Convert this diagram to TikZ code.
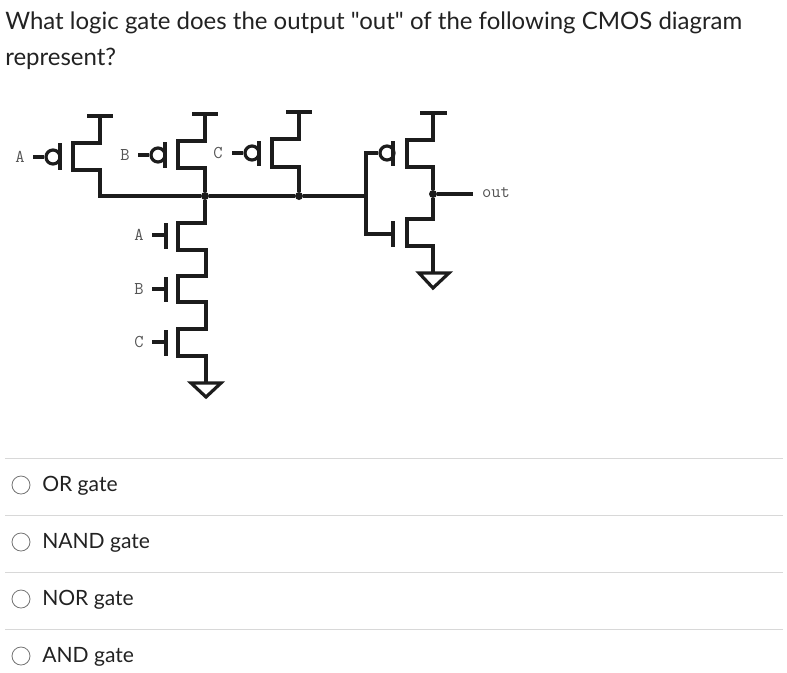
\documentclass[tikz,border=0pt]{standalone}
\usepackage{fontspec}
\newfontfamily\quizfont{Lato}
\definecolor{textcol}{HTML}{222222}
\definecolor{labelcol}{HTML}{555555}
\definecolor{rulecol}{HTML}{D8D8D8}
\definecolor{wirecol}{HTML}{1C1C1C}
\tikzset{
	wire/.style={draw=wirecol, line width=2.4pt, line join=miter},
	bubble/.style={circle, draw=wirecol, line width=2.4pt, fill=white, minimum size=10.5pt, inner sep=0pt},
	dot/.style={circle, fill=wirecol, minimum size=6pt, inner sep=0pt},
	pin/.style={font=\ttfamily\fontsize{13.5}{15}\selectfont, text=labelcol},
	title/.style={anchor=base west, font=\quizfont\fontsize{18}{22}\selectfont, text=textcol, inner sep=0pt},
	answer/.style={anchor=base west, font=\quizfont\fontsize{15.8}{19}\selectfont, text=textcol, inner sep=0pt},
	radio/.style={circle, draw=black!55, line width=0.6pt, fill=white, minimum size=13.5pt, inner sep=0pt},
	sep/.style={draw=rulecol, line width=0.7pt}
}
\begin{document}
\begin{tikzpicture}[x=0.75pt, y=-0.75pt]
	\useasboundingbox (0,0) rectangle (787,672);

	\node[title] (T1) at (5,29) {What logic gate does the output "out" of the following CMOS diagram};
	\node[title] (T2) at (5,65) {represent?};

	% pull-up A, B, C
	\node[pin] (LA) at (20,157) {A};
	\node[pin] (LB) at (125,155) {B};
	\node[pin] (LC) at (218,153) {C};
	\node[bubble] (BA) at (53,157) {};
	\node[bubble] (BB) at (158,155) {};
	\node[bubble] (BC) at (252,153) {};
	\coordinate (IA) at (33,157);
	\coordinate (IB) at (138,155);
	\coordinate (IC) at (232,153);
	\draw[wire] (IA) -- (BA);
	\draw[wire] (IB) -- (BB);
	\draw[wire] (IC) -- (BC);
	\draw[wire] (60,143) -- (60,170);
	\draw[wire] (165,142) -- (165,168);
	\draw[wire] (259,141) -- (259,166);

	\node[dot] (J1) at (205,196) {};
	\node[dot] (J2) at (299,196) {};
	\coordinate (J0) at (366,196);

	\draw[wire] (87,116) -- (113,116);
	\draw[wire] (100,116) |- (73,143) -- (73,170) -| (100,196) -- (J1);
	\draw[wire] (192,114) -- (218,114);
	\draw[wire] (205,114) |- (178,141) -- (178,168) -| (J1);
	\draw[wire] (286,112) -- (312,112);
	\draw[wire] (299,112) |- (272,139) -- (272,167) -| (J2);
	\draw[wire] (J1) -- (J2) -- (J0);

	% pull-down A, B, C
	\node[pin] (LD) at (139,235) {A};
	\node[pin] (LE) at (139,289) {B};
	\node[pin] (LF) at (139,342) {C};
	\coordinate (ID) at (152,235);
	\coordinate (IE) at (152,289);
	\coordinate (IF) at (152,342);
	\draw[wire] (ID) -- (166,235);
	\draw[wire] (IE) -- (166,289);
	\draw[wire] (IF) -- (166,342);
	\draw[wire] (166,223) -- (166,249);
	\draw[wire] (166,277) -- (166,302);
	\draw[wire] (166,330) -- (166,356);
	\draw[wire] (J1) |- (178,223) |- (206,250) |- (178,276) |- (206,302) |- (178,329) |- (206,356) -- (206,383);
	\draw[wire] (191,383) -- (221,383) -- (206,397) -- cycle;

	% inverter
	\node[bubble] (BG) at (387,153) {};
	\node[dot] (J3) at (433,194) {};
	\node[pin] (LO) at (496,193) {out};
	\coordinate (OUT) at (473,194);
	\draw[wire] (J0) |- (BG);
	\draw[wire] (J0) |- (393,234);
	\draw[wire] (393,141) -- (393,166);
	\draw[wire] (393,221) -- (393,247);
	\draw[wire] (420,113) -- (447,113);
	\draw[wire] (433,113) |- (407,140) -- (407,167) -| (J3);
	\draw[wire] (J3) |- (407,219) -- (407,246) -| (433,273);
	\draw[wire] (J3) -- (OUT);
	\draw[wire] (419,273) -- (449,273) -- (433,288) -- cycle;

	% answers
	\draw[sep] (5,458) -- (783,458);
	\draw[sep] (5,515) -- (783,515);
	\draw[sep] (5,572) -- (783,572);
	\draw[sep] (5,629) -- (783,629);
	\node[radio] (R1) at (21,485) {};
	\node[radio] (R2) at (21,542) {};
	\node[radio] (R3) at (21,599) {};
	\node[radio] (R4) at (21,656) {};
	\node[answer] (A1) at (42,491) {OR gate};
	\node[answer] (A2) at (42,548) {NAND gate};
	\node[answer] (A3) at (42,605) {NOR gate};
	\node[answer] (A4) at (42,662) {AND gate};
\end{tikzpicture}
\end{document}
